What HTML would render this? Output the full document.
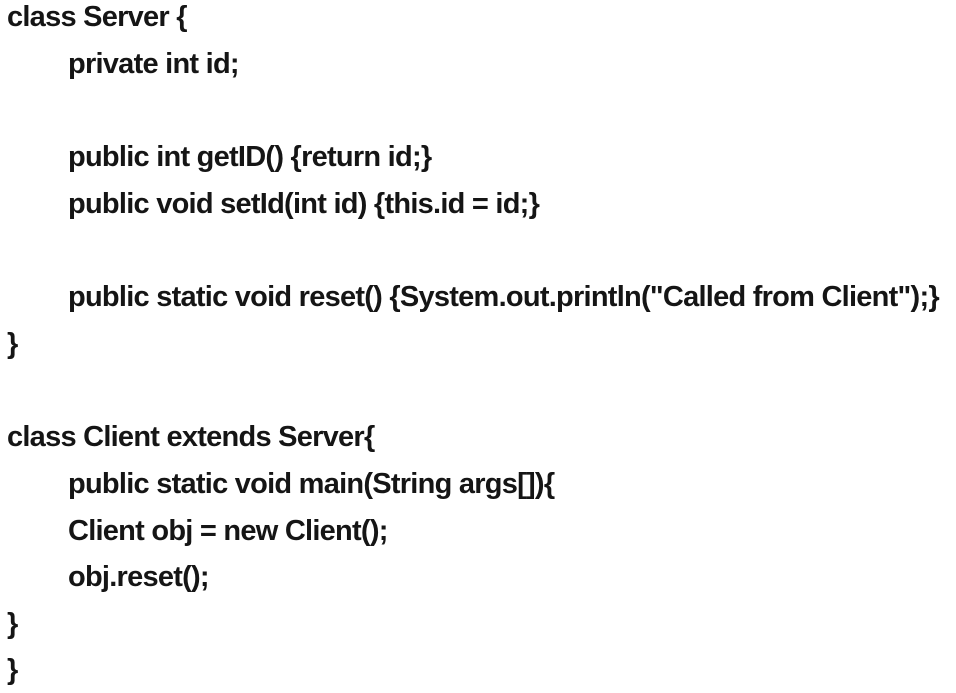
<!DOCTYPE html>
<html><head><style>
html,body{margin:0;padding:0;background:#fff;}
body{width:956px;height:693px;position:relative;overflow:hidden;}
.l{position:absolute;font-family:"Liberation Sans",Arial,sans-serif;font-weight:bold;font-size:29px;color:#151515;white-space:pre;letter-spacing:-0.75px;line-height:1;}
</style></head><body>
<div class="l" style="left:7px;top:3px">class Server {</div>
<div class="l" style="left:68px;top:50px">private int id;</div>
<div class="l" style="left:68px;top:143px">public int getID() {return id;}</div>
<div class="l" style="left:68px;top:190px">public void setId(int id) {this.id = id;}</div>
<div class="l" style="left:68px;top:283px">public static void reset() {System.out.println("Called from Client");}</div>
<div class="l" style="left:7px;top:330px">}</div>
<div class="l" style="left:7px;top:423px">class Client extends Server{</div>
<div class="l" style="left:68px;top:470px">public static void main(String args[]){</div>
<div class="l" style="left:68px;top:517px">Client obj = new Client();</div>
<div class="l" style="left:68px;top:563px">obj.reset();</div>
<div class="l" style="left:7px;top:610px">}</div>
<div class="l" style="left:7px;top:656px">}</div>
</body></html>
